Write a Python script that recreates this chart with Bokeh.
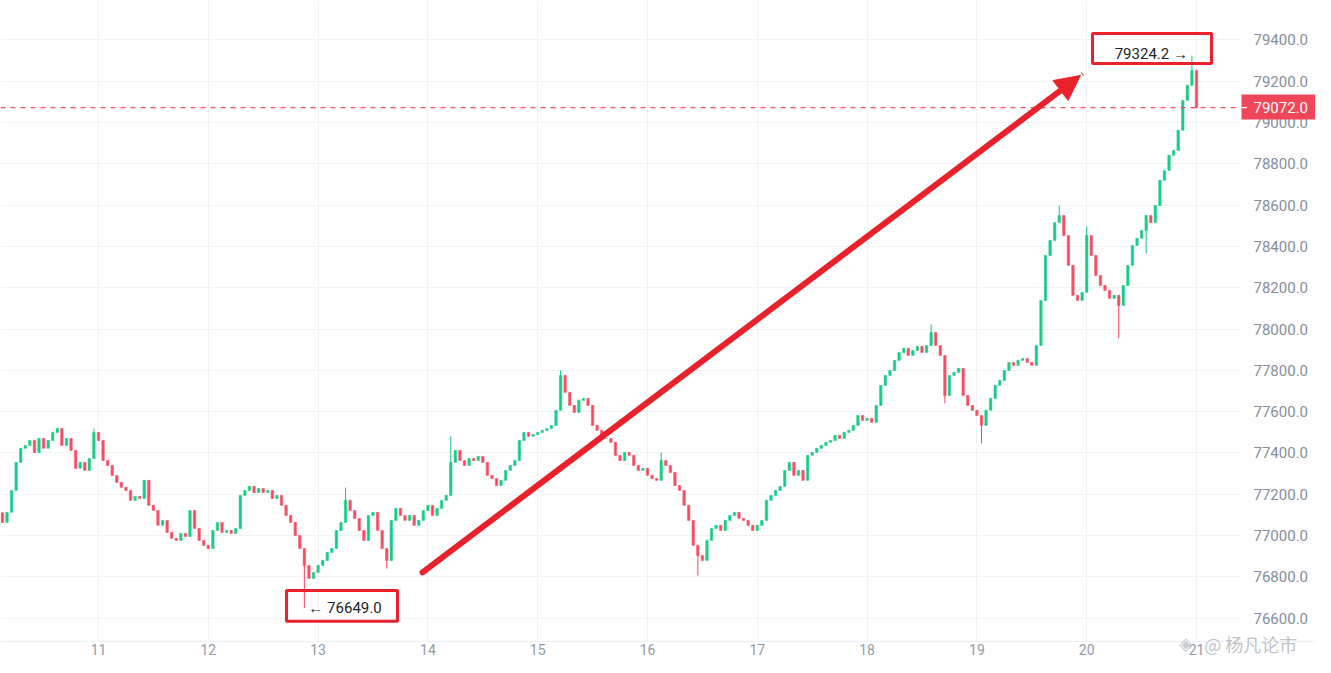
from bokeh.plotting import figure
from bokeh.models import (ColumnDataSource, FixedTicker, Label, Arrow,
                          NormalHead, BoxAnnotation, Range1d)
from bokeh.core.properties import value
from bokeh.embed import file_html
from bokeh.resources import INLINE

# ---------------- data (hourly candles, x in days of the month) ----------------
start_day = 10.125
candles_per_day = 24
first_open = 77110
closes = [
    77063, 77112, 77218, 77354, 77422, 77436, 77460, 77402, 77470, 77422, 77460, 77499,
    77518, 77436, 77470, 77412, 77325, 77354, 77315, 77373, 77499, 77460, 77363, 77339,
    77291, 77257, 77233, 77218, 77170, 77189, 77179, 77267, 77146, 77121, 77049, 77073,
    77015, 76986, 76976, 77010, 76995, 77121, 77034, 76976, 76952, 76937, 77024, 77063,
    77015, 77024, 77010, 77034, 77194, 77218, 77238, 77208, 77228, 77208, 77218, 77179,
    77194, 77146, 77097, 77063, 77000, 76937, 76855, 76792, 76821, 76855, 76879, 76918,
    76937, 77024, 77063, 77170, 77121, 77083, 77024, 76976, 77097, 77112, 77024, 76937,
    76879, 77073, 77131, 77097, 77073, 77097, 77049, 77073, 77121, 77146, 77097, 77131,
    77170, 77194, 77354, 77412, 77363, 77339, 77373, 77363, 77383, 77354, 77291, 77276,
    77242, 77267, 77315, 77339, 77363, 77460, 77499, 77480, 77489, 77499, 77509, 77518,
    77533, 77606, 77775, 77693, 77630, 77596, 77654, 77664, 77630, 77533, 77509, 77470,
    77470, 77451, 77388, 77363, 77402, 77388, 77339, 77315, 77325, 77291, 77276, 77267,
    77363, 77339, 77305, 77242, 77218, 77146, 77073, 76952, 76903, 76879, 76976, 77034,
    77049, 77024, 77073, 77097, 77112, 77083, 77073, 77049, 77024, 77049, 77073, 77170,
    77194, 77218, 77238, 77315, 77354, 77291, 77315, 77267, 77388, 77402, 77422, 77436,
    77451, 77460, 77485, 77470, 77499, 77509, 77533, 77581, 77557, 77567, 77548, 77630,
    77727, 77775, 77799, 77848, 77886, 77906, 77872, 77896, 77916, 77886, 77920, 77983,
    77920, 77872, 77678, 77775, 77790, 77809, 77678, 77630, 77606, 77581, 77533, 77606,
    77664, 77727, 77751, 77799, 77838, 77824, 77848, 77857, 77838, 77824, 77920, 78138,
    78356, 78429, 78516, 78550, 78453, 78308, 78163, 78138, 78177, 78453, 78356, 78259,
    78211, 78187, 78148, 78163, 78114, 78211, 78308, 78405, 78439, 78477, 78550, 78516,
    78598, 78720, 78768, 78841, 78865, 78962, 79107, 79180, 79252, 79072,
]
# notable wick extremes (candle index -> price)
wick_highs = {20: 77518, 75: 77232, 98: 77480, 122: 77799, 144: 77402,
              203: 78022, 231: 78598, 237: 78497, 260: 79324.2}
wick_lows = {66: 76649.0, 84: 76840, 152: 76806, 206: 77640, 214: 77446,
             244: 77955, 250: 78366}

last_price = 79072.0
low_index, low_price = 66, 76649.0
high_index, high_price = 260, 79324.2

x_ticks = [11, 12, 13, 14, 15, 16, 17, 18, 19, 20, 21]
x_tick_labels = ["11", "12", "13", "14", "15", "16", "17", "18", "19", "20", "21"]
y_ticks = [76600, 76800, 77000, 77200, 77400, 77600, 77800, 78000, 78200,
           78400, 78600, 78800, 79000, 79200, 79400]
y_tick_labels = ["76600.0", "76800.0", "77000.0", "77200.0", "77400.0", "77600.0",
                 "77800.0", "78000.0", "78200.0", "78400.0", "78600.0", "78800.0",
                 "79000.0", "79200.0", "79400.0"]
watermark = "@ 杨凡论市"

# ---------------- layout constants (chart area / price scale) ----------------
X0, X1 = 10.1075, 22.0838          # whole canvas, in days
Y0, Y1 = 76409, 79591              # whole canvas, in price
PLOT_RIGHT = 21.4007               # right edge of candle area (price scale begins)
PLOT_BOTTOM = 76487                # bottom edge of candle area (time scale begins)
SCALE_TEXT_X = 21.519              # left edge of price-scale labels
TIME_TEXT_Y = 76450                # centre line of time-scale labels
MARK_Y = 76476                     # centre line of the watermark

# ---------------- build OHLC ----------------
opens = [first_open] + closes[:-1]
xs, tops, bots, his, los, cols = [], [], [], [], [], []
UP, DOWN = "#0ecb81", "#f6465d"
for i, c in enumerate(closes):
    o = opens[i]
    xs.append(start_day + i / candles_per_day)
    tops.append(max(o, c))
    bots.append(min(o, c))
    his.append(wick_highs.get(i, max(o, c)))
    los.append(wick_lows.get(i, min(o, c)))
    cols.append(UP if c >= o else DOWN)
src = ColumnDataSource(dict(x=xs, top=tops, bottom=bots, high=his, low=los, color=cols))

# ---------------- figure ----------------
FONT = "Roboto"
GRAY = "#848e9c"
RED = "#e8212b"
p = figure(width=1315, height=657, x_range=Range1d(X0, X1), y_range=Range1d(Y0, Y1),
           x_axis_location=None, y_axis_location=None,
           output_backend="svg", toolbar_location=None,
           min_border=0, background_fill_color="white", border_fill_color="white")
p.outline_line_color = None

p.xgrid.ticker = FixedTicker(ticks=x_ticks)
p.ygrid.ticker = FixedTicker(ticks=y_ticks)
p.xgrid.grid_line_color = "#f1f2f4"
p.ygrid.grid_line_color = "#f1f2f4"
p.xgrid.cross_bounds = (PLOT_BOTTOM, Y1)
p.ygrid.cross_bounds = (X0, PLOT_RIGHT)

# separator between candle area and time scale
p.segment(x0=[X0], y0=[PLOT_BOTTOM], x1=[X1], y1=[PLOT_BOTTOM],
          line_color="#eceef1", line_width=1)

# candles
p.segment(x0="x", y0="high", x1="x", y1="low", color="color", line_width=1, source=src)
p.vbar(x="x", width=0.56 / candles_per_day, top="top", bottom="bottom",
       fill_color="color", line_color="color", line_width=0.5, fill_alpha=0.88,
       line_alpha=0.88, source=src)

# price scale labels and time scale labels
p.text(x=[SCALE_TEXT_X] * len(y_ticks), y=y_ticks, text=y_tick_labels,
       text_font=value(FONT), text_font_size="15px", text_color=GRAY,
       text_align="left", text_baseline="middle")
p.text(x=x_ticks, y=[TIME_TEXT_Y] * len(x_ticks), text=x_tick_labels,
       text_font=value(FONT), text_font_size="14px", text_color="#929aa5",
       text_align="center", text_baseline="middle")

# last price dashed line + tag
p.segment(x0=[X0], y0=[last_price], x1=[PLOT_RIGHT], y1=[last_price],
          line_color="#ef5160", line_dash="5 5", line_width=1.2)
p.quad(left=[PLOT_RIGHT + 0.009], right=[X1 + 0.1], top=[79136], bottom=[79015],
       fill_color="#f0465a", line_color=None)
p.segment(x0=[PLOT_RIGHT + 0.009], y0=[last_price], x1=[PLOT_RIGHT + 0.06], y1=[last_price],
          line_color="white", line_width=1.2)
p.text(x=[SCALE_TEXT_X], y=[last_price], text=[f"{last_price:.1f}"],
       text_font=value(FONT), text_font_size="15px", text_color="white",
       text_align="left", text_baseline="middle")

# low / high annotations
lx = start_day + low_index / candles_per_day
hx = start_day + high_index / candles_per_day
p.add_layout(Label(x=lx, y=low_price, x_offset=4, text=f"← {low_price:.1f}",
                   text_color="#1e2329", text_font=FONT, text_font_size="15px",
                   text_baseline="middle", text_align="left"))
p.add_layout(Label(x=hx, y=high_price, x_offset=-4, y_offset=2, text=f"{high_price:.1f} →",
                   text_color="#1e2329", text_font=FONT, text_font_size="15px",
                   text_baseline="middle", text_align="right"))

# red hand-drawn boxes and arrow
p.add_layout(BoxAnnotation(left=12.712, right=13.723, top=76734, bottom=76584,
                           fill_alpha=0, line_color=RED, line_width=3, line_alpha=1))
p.add_layout(BoxAnnotation(left=20.053, right=21.137, top=79431, bottom=79286,
                           fill_alpha=0, line_color=RED, line_width=3, line_alpha=1))
p.add_layout(Arrow(end=NormalHead(size=25, fill_color=RED, line_color=RED),
                   x_start=13.951, y_start=76821, x_end=19.9435, y_end=79228,
                   line_color=RED, line_width=6, line_cap="round"))

# watermark
p.text(x=[20.84], y=[MARK_Y], text=["◈"], text_font=value("DejaVu Sans"),
       text_font_size="18px", text_color="#c8ccd1", text_baseline="middle")
p.text(x=[21.07], y=[MARK_Y], text=[watermark], text_font=value("Noto Sans CJK SC"),
       text_font_size="18px", text_color="#bfc3c8", text_baseline="middle")

open("out.html", "w").write(file_html(p, INLINE))
